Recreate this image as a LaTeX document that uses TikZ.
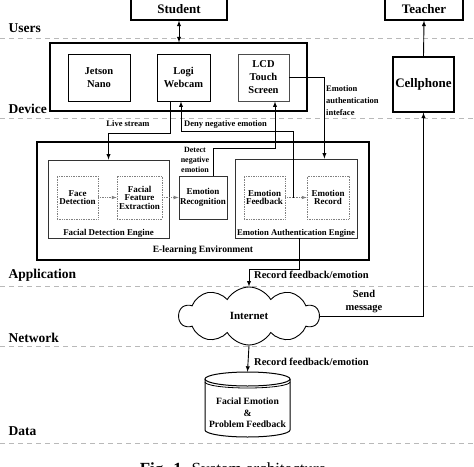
\documentclass[tikz,border=0pt]{standalone}
\usepackage{fontspec}
\setmainfont{Liberation Serif}
\usetikzlibrary{calc}
\usetikzlibrary{arrows}
\usetikzlibrary{shapes.symbols}

\tikzset{
  layerline/.style={gray!55,dash pattern=on 5pt off 4pt,line width=0.9pt},
  layername/.style={anchor=base west,font=\fontsize{13.5}{14}\selectfont\bfseries},
  bigbox/.style={draw,line width=1.2pt,inner sep=0pt,align=center,font=\fontsize{13}{14}\selectfont\bfseries},
  unitbox/.style={draw,line width=0.9pt,inner sep=0pt,align=center,font=\fontsize{10.5}{13}\selectfont\bfseries},
  enginebox/.style={draw=black!80,line width=0.8pt,inner sep=0pt},
  modbox/.style={draw=gray,densely dotted,line width=0.7pt,inner sep=0pt,align=center,font=\fontsize{9}{8.5}\selectfont\bfseries},
  tag/.style={inner sep=0pt,align=center,font=\fontsize{8.5}{10}\selectfont\bfseries},
  bigtag/.style={inner sep=0pt,align=center,font=\fontsize{10.5}{13}\selectfont\bfseries},
  link/.style={line width=0.9pt,-latex},
  weaklink/.style={gray,densely dotted,line width=0.7pt,-latex},
}

\begin{document}
\begin{tikzpicture}[x=1pt,y=-1pt]
  % Constants
  \pgfmathsetmacro\w{474}
  \pgfmathsetmacro\h{466}
  % Boundary
  \path[use as bounding box] (0,0) rectangle (\w,\h);
  % Layers
  \draw[layerline] (0,38) -- (\w,38);
  \draw[layerline] (0,118) -- (\w,118);
  \draw[layerline] (0,286) -- (\w,286);
  \draw[layerline] (0,346) -- (\w,346);
  \draw[layerline] (0,443) -- (\w,443);
  \node[layername] (users) at (5,32) {Users};
  \node[layername] (devicename) at (5,113) {Device};
  \node[layername] (appname) at (5,278) {Application};
  \node[layername] (netname) at (5,342) {Network};
  \node[layername] (dataname) at (5,435) {Data};
  % Users
  \node[bigbox,minimum width=96,minimum height=22] (student) at (179,9) {Student};
  \node[bigbox,minimum width=78,minimum height=22] (teacher) at (424,9) {Teacher};
  % Device
  \node[bigbox,minimum width=257,minimum height=68] (device) at (178.5,77) {};
  \node[unitbox,minimum width=62,minimum height=47] (jetson) at (99,77.5) {Jetson\\Nano};
  \node[unitbox,minimum width=53,minimum height=47] (webcam) at (183.5,77.5) {Logi\\Webcam};
  \node[unitbox,draw=black!70,minimum width=51,minimum height=47] (lcd) at (263.5,77.5) {LCD\\Touch\\Screen};
  \node[bigbox,minimum width=61,minimum height=55] (cell) at (423.5,84.5) {Cellphone};
  % Application
  \node[bigbox,minimum width=332,minimum height=118] (elearn) at (203,201) {};
  \node[anchor=base,inner sep=0pt,font=\fontsize{9.6}{10}\selectfont\bfseries] (elearnname) at (203,252) {E-learning Environment};
  \node[enginebox,minimum width=121,minimum height=78] (fde) at (108.5,199) {};
  \node[anchor=base,inner sep=0pt,font=\fontsize{8.9}{9}\selectfont\bfseries] (fdename) at (108.5,235.5) {Facial Detection Engine};
  \node[modbox,minimum width=41,minimum height=43] (face) at (77.5,197.5) {Face\\Detection};
  \node[modbox,minimum width=45,minimum height=43] (feature) at (139.5,197.5) {Facial\\Feature\\Extraction};
  \node[enginebox,align=center,font=\fontsize{9}{10}\selectfont\bfseries,minimum width=48,minimum height=43] (er) at (203,197.5) {Emotion\\Recognition};
  \node[enginebox,minimum width=122,minimum height=79] (eae) at (296,198.5) {};
  \node[anchor=base,inner sep=0pt,font=\fontsize{8.7}{9}\selectfont\bfseries] (eaename) at (296,235) {Emotion Authentication Engine};
  \node[modbox,minimum width=41,minimum height=43] (feedback) at (264.5,197.5) {Emotion\\Feedback};
  \node[modbox,minimum width=42,minimum height=43] (record) at (328,197.5) {Emotion\\Record};
  % Network
  \node[cloud,draw,line width=0.9pt,cloud puffs=10,cloud puff arc=120,aspect=2.4,
        minimum width=140,minimum height=58,inner sep=0pt,
        font=\fontsize{11}{12}\selectfont\bfseries] (cloud) at (249,316) {Internet};
  % Data
  \node[inner sep=0pt,minimum width=85,minimum height=65] (db) at (247.5,404.5) {};
  \node[inner sep=0pt,align=center,font=\fontsize{9.6}{11.5}\selectfont\bfseries] (dbtext) at (247.5,413) {Facial Emotion\\\&\\Problem Feedback};
  \draw[line width=1pt] (205,379) -- (205,430) arc[start angle=180,end angle=360,x radius=42.5pt,y radius=7pt] -- (290,379);
  \draw[line width=1pt] (247.5,379) ellipse[x radius=42.5pt,y radius=7pt];
  \draw[line width=0.8pt] (205,382) arc[start angle=180,end angle=360,x radius=42.5pt,y radius=6pt];
  % Connectors
  \draw[line width=0.9pt,latex-latex] (student.south) -- (student.south |- device.north);
  \draw[link] (cell.north) -- (teacher.south);
  \draw[link] ([xshift=-13.5pt]webcam.south) -- ++(0,32) -| (fde.north);
  \coordinate (deny) at ($(feedback.east)!0.4!(record.west)$);
  \draw[link] (deny) -- ++(0,-66) -| ([xshift=-2.5pt]webcam.south);
  \draw[link] ([xshift=10pt]er.north) -- ++(0,-27) -| ([xshift=11.5pt]lcd.south);
  \draw[link] (lcd.east) -| ([xshift=-33pt]eae.north east);
  \draw[weaklink] (face) -- (feature);
  \draw[weaklink] (feature) -- (er);
  \draw[weaklink] (feedback) -- (record);
  \draw[link] ([xshift=3pt]eae.south) -- ++(0,31) -| (cloud.north);
  \draw[link] (cloud.east) -| (cell.south);
  \draw[link] (cloud.south) -- (db.north);
  % Labels
  \node[tag] (livetag) at (128,124) {Live stream};
  \node[tag,anchor=west] (denytag) at (184,124) {Deny negative emotion};
  \node[tag,font=\fontsize{8}{10}\selectfont\bfseries] (detecttag) at (195,160) {Detect\\negative\\emotion};
  \node[tag,anchor=west,align=left,font=\fontsize{8.5}{12}\selectfont\bfseries] (authtag) at (326,101) {Emotion\\authentication\\inteface};
  \node[bigtag,anchor=west] (recordtag) at (254,275) {Record feedback/emotion};
  \node[bigtag] (sendtag) at (364,302) {Send\\message};
  \node[bigtag,anchor=west] (storetag) at (254,362) {Record feedback/emotion};
  % Caption
  \node[anchor=base,inner sep=0pt,font=\fontsize{17}{18}\selectfont] (caption) at (233,474) {\textbf{Fig. 1.} System architecture};
\end{tikzpicture}
\end{document}
